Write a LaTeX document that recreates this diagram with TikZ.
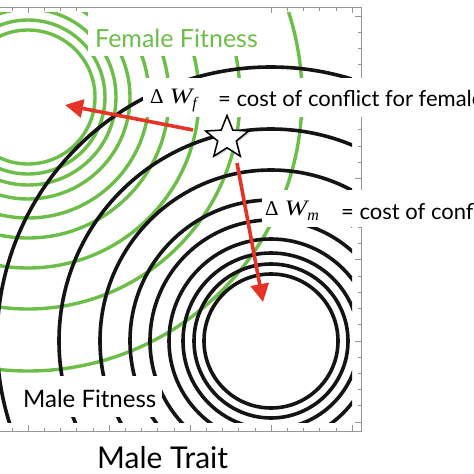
\documentclass[tikz,border=0pt]{standalone}
\usepackage{fontspec}
\newfontfamily\gill{Lato}
\newfontfamily\tms{Liberation Serif}
\usetikzlibrary{arrows.meta,shapes.geometric,shadows}
\definecolor{fitgreen}{RGB}{108,190,72}
\definecolor{fitblack}{RGB}{20,20,20}
\definecolor{arrred}{RGB}{229,52,38}
\definecolor{framegray}{RGB}{150,150,150}
\newcommand{\dwlabel}[1]{\fontsize{21}{21}\selectfont Δ\hspace{6pt}\itshape\scalebox{1.3}[1.05]{W}\raisebox{-5pt}{\fontsize{16}{16}\selectfont #1}}
\tikzset{
  greenc/.style={draw=fitgreen, line width=3.4pt},
  blackc/.style={draw=fitblack, line width=3.6pt},
  tickmark/.style={draw=framegray, line width=0.6pt},
  framebox/.style={draw=framegray, line width=0.9pt},
  redarrow/.style={draw=arrred, line width=3.6pt, -{Triangle[length=18pt,width=18pt]}},
  lbl/.style={inner sep=0pt, anchor=base west},
  whitebox/.style={fill=white},
}
\begin{document}
\begin{tikzpicture}[x=1pt,y=-1pt]
\useasboundingbox (0,0) rectangle (474,474);
\fill[white] (0,0) rectangle (474,474);
% frame and ticks
\draw[framebox] (0,7) -- (361,7) -- (361,431) -- (0,431);
\foreach \k in {0,...,21}{
  \pgfmathsetmacro\tx{12+16.19*\k}
  \pgfmathsetmacro\tl{ifthenelse(mod(\k,5)==1,6,3.5)}
  \draw[tickmark] (\tx,7) -- ++(0,\tl);
  \draw[tickmark] (\tx,431) -- ++(0,-\tl);
}
\foreach \k in {0,...,25}{
  \pgfmathsetmacro\ty{16+16.24*\k}
  \pgfmathsetmacro\tl{ifthenelse(mod(\k,5)==0,6,3.5)}
  \draw[tickmark] (361,\ty) -- ++(-\tl,0);
}
% contours
\coordinate (gc) at (28,97);
\coordinate (bc) at (271,341);
\begin{scope}
  \clip (0,12) rectangle (352,422);
  \foreach \r in {67,77,88,102,121,141,171,212,274}
    \draw[greenc] (gc) circle (\r pt);
  \foreach \r in {67,77,88,102,121,141,171,212,274}
    \draw[blackc] (bc) circle (\r pt);
\end{scope}
% label backgrounds
\fill[whitebox] (88,8) rectangle (262,56);
\fill[whitebox] (143,78) rectangle (480,117);
\fill[whitebox] (262,190) rectangle (480,227);
\fill[whitebox] (15,376) rectangle (162,417);
% labels
\node[lbl, text=fitgreen, font=\gill\fontsize{25}{25}\selectfont] (ff) at (95,47) {Female Fitness};
\node[lbl, font=\gill\fontsize{24}{24}\selectfont] (mf) at (23,407) {Male Fitness};
\node[lbl, font=\gill\fontsize{30}{30}\selectfont] (mt) at (97,468) {Male Trait};
\node[lbl, font=\tms] (dwf) at (150,103) {\dwlabel{f}};
\node[lbl, font=\gill\fontsize{22}{22}\selectfont] (cf) at (218,106) {= cost of conflict for female};
\node[lbl, font=\tms] (dwm) at (265,215) {\dwlabel{m}};
\node[lbl, font=\gill\fontsize{22}{22}\selectfont] (cm) at (341,219) {= cost of conflict for male};
% star
\node[star, star points=5, star point ratio=2.3, minimum size=45pt, inner sep=0pt,
      fill=white, draw=black, line width=1.5pt,
      drop shadow={opacity=0.35, shadow xshift=1.5pt, shadow yshift=-1.5pt}] (st) at (227,138) {};
% arrows
\coordinate (fs) at (193,130);
\coordinate (ft) at (65,105);
\coordinate (ms) at (237,163);
\coordinate (mtip) at (263,302);
\draw[redarrow] (fs) -- (ft);
\draw[redarrow] (ms) -- (mtip);
\end{tikzpicture}
\end{document}
